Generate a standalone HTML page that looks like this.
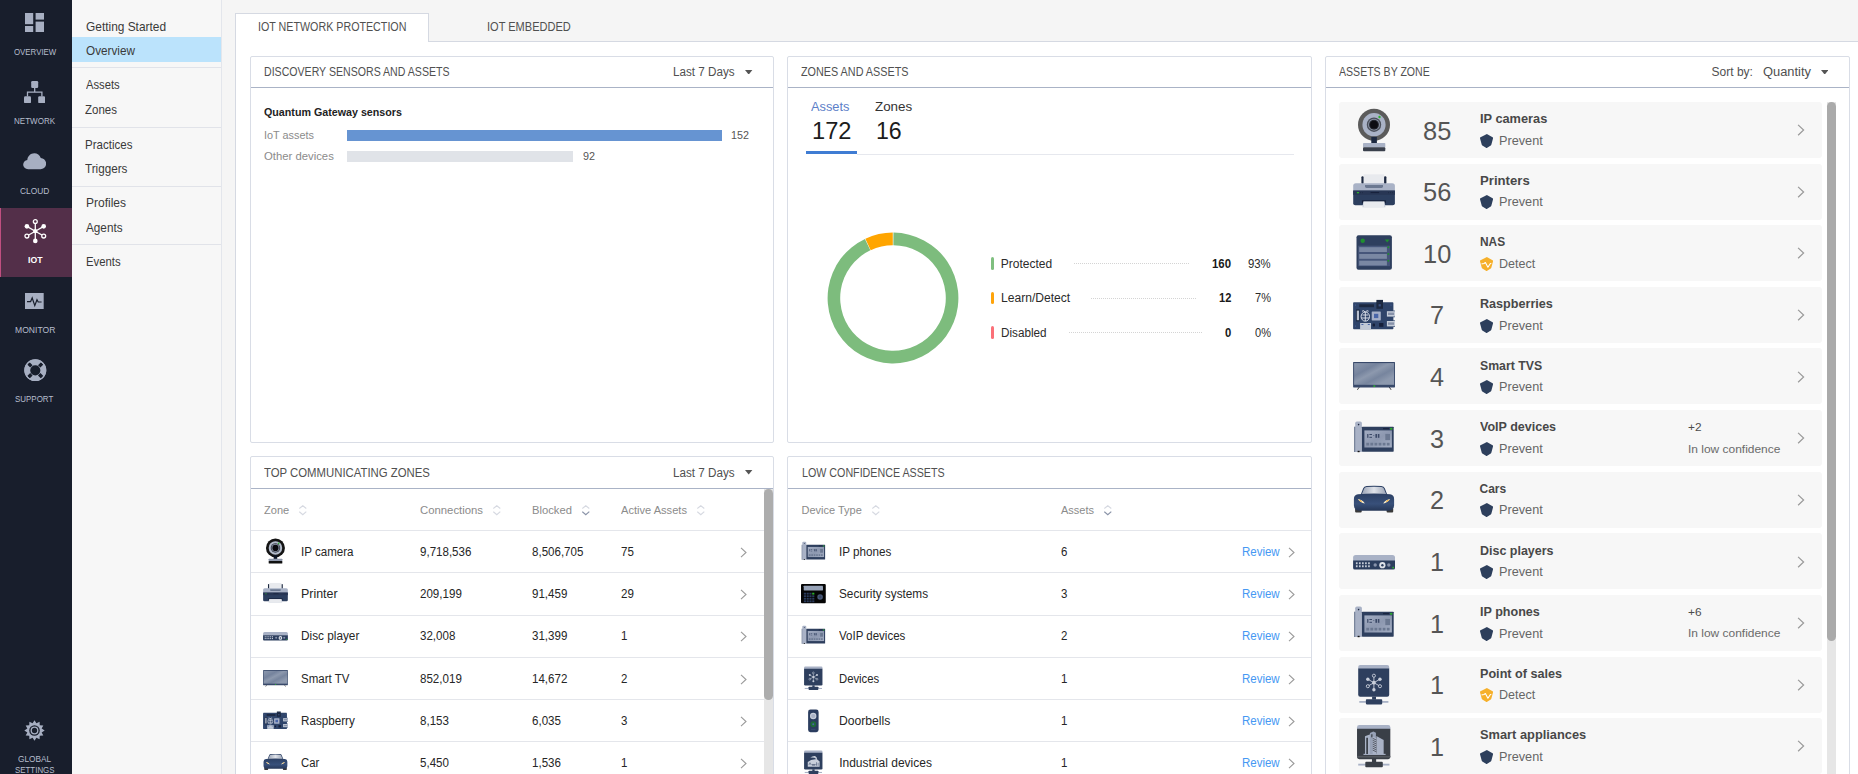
<!DOCTYPE html>
<html lang="en"><head><meta charset="utf-8"><title>IoT Overview</title>
<style>
html,body{margin:0;padding:0}
body{width:1858px;height:774px;overflow:hidden;position:relative;background:#fff;font-family:"Liberation Sans",sans-serif}
.b{position:absolute;box-sizing:border-box;display:block}
.t{position:absolute;white-space:nowrap;line-height:1;transform-origin:0 50%;display:block}
</style></head><body>
<div class="b" style="left:0px;top:0px;width:72px;height:774px;background:#181e2c;"></div>
<div class="b" style="left:0px;top:208px;width:72px;height:69px;background:#532f49;"></div>
<div class="b" style="left:0px;top:208px;width:1.4px;height:69px;background:#c04f80;"></div>
<div class="b" style="left:72px;top:0px;width:150px;height:774px;background:#f7f7f7;border-right:1px solid #e3e6ec;"></div>
<div class="b" style="left:72px;top:37px;width:149px;height:25.3px;background:#bbe3fc;"></div>
<div class="b" style="left:72px;top:67px;width:149px;height:1px;background:#e1e3e9;"></div>
<div class="b" style="left:72px;top:126.5px;width:149px;height:1px;background:#e1e3e9;"></div>
<div class="b" style="left:72px;top:185.5px;width:149px;height:1px;background:#e1e3e9;"></div>
<div class="b" style="left:72px;top:244.2px;width:149px;height:1px;background:#e1e3e9;"></div>
<div class="b" style="left:222px;top:0px;width:1636px;height:774px;background:#f5f5f5;"></div>
<div class="b" style="left:235px;top:41px;width:1623px;height:740px;background:#fff;border:1px solid #d5d9e2;border-right:none;"></div>
<div class="b" style="left:235px;top:13px;width:194px;height:29px;background:#fff;border:1px solid #d5d9e2;border-bottom:none;"></div>
<div class="b" style="left:250px;top:56px;width:524px;height:387px;background:#fff;border:1px solid #d9dde6;border-radius:2px;"></div>
<div class="b" style="left:251px;top:87px;width:522px;height:1px;background:#aab3c6;"></div>
<div class="b" style="left:787px;top:56px;width:525px;height:387px;background:#fff;border:1px solid #d9dde6;border-radius:2px;"></div>
<div class="b" style="left:788px;top:87px;width:523px;height:1px;background:#aab3c6;"></div>
<div class="b" style="left:1325px;top:56px;width:525px;height:740px;background:#fff;border:1px solid #d9dde6;border-radius:2px;"></div>
<div class="b" style="left:1326px;top:87px;width:523px;height:1px;background:#aab3c6;"></div>
<div class="b" style="left:250px;top:456px;width:524px;height:340px;background:#fff;border:1px solid #d9dde6;border-radius:2px;"></div>
<div class="b" style="left:251px;top:488px;width:522px;height:1px;background:#aab3c6;"></div>
<div class="b" style="left:787px;top:456px;width:525px;height:340px;background:#fff;border:1px solid #d9dde6;border-radius:2px;"></div>
<div class="b" style="left:788px;top:488px;width:523px;height:1px;background:#aab3c6;"></div>
<svg class="b" style="left:25px;top:13px;" width="19" height="19.4" viewBox="0 0 19 19.4"><g fill="#a7afc2"><rect x="0" y="0" width="8.2" height="11.2"/><rect x="10.6" y="0" width="8.4" height="6.6"/><rect x="0" y="13" width="8.2" height="6.4"/><rect x="10.6" y="8.6" width="8.4" height="10.8"/></g></svg>
<svg class="b" style="left:24px;top:80.8px;" width="21.2" height="22.2" viewBox="0 0 21.2 22.2"><g fill="#a7afc2"><rect x="7.2" y="0" width="7" height="7" rx="1.3"/><rect x="0" y="15.2" width="7" height="7" rx="1.3"/><rect x="14.2" y="15.2" width="7" height="7" rx="1.3"/></g><path d="M10.7 7v4.2M3.5 15.4v-4.2h14.4v4.2" fill="none" stroke="#a7afc2" stroke-width="1.3"/></svg>
<svg class="b" style="left:23px;top:153.4px;" width="23.4" height="16.4" viewBox="0 0 23.4 16.4"><path d="M5.2 16.2C2.3 16.2 0.2 14.2 0.2 11.6C0.2 9.2 2 7.3 4.3 7C4.6 3.2 7.6 0.3 11.3 0.3C14.3 0.3 16.8 2.2 17.8 4.9C20.8 5.1 23.2 7.6 23.2 10.6C23.2 13.7 20.7 16.2 17.6 16.2Z" fill="#a7afc2"/></svg>
<svg class="b" style="left:20px;top:215px;" width="32" height="32" viewBox="0 0 32 32"><path d="M15.30 16.20L15.30 6.50" stroke="#fff" stroke-width="1.3"/><path d="M15.30 16.20L23.70 11.35" stroke="#fff" stroke-width="1.3"/><path d="M15.30 16.20L23.70 21.05" stroke="#fff" stroke-width="1.3"/><path d="M15.30 16.20L15.30 25.90" stroke="#fff" stroke-width="1.3"/><path d="M15.30 16.20L6.90 21.05" stroke="#fff" stroke-width="1.3"/><path d="M15.30 16.20L6.90 11.35" stroke="#fff" stroke-width="1.3"/><circle cx="15.30" cy="6.50" r="1.95" fill="#532f49" stroke="#fff" stroke-width="1.3"/><circle cx="23.70" cy="11.35" r="2.30" fill="#fff"/><circle cx="23.70" cy="21.05" r="1.95" fill="#532f49" stroke="#fff" stroke-width="1.3"/><circle cx="15.30" cy="25.90" r="2.30" fill="#fff"/><circle cx="6.90" cy="21.05" r="1.95" fill="#532f49" stroke="#fff" stroke-width="1.3"/><circle cx="6.90" cy="11.35" r="2.30" fill="#fff"/><circle cx="15.3" cy="16.2" r="2.1" fill="#fff"/></svg>
<svg class="b" style="left:25.3px;top:292.6px;" width="18.7" height="16.5" viewBox="0 0 18.7 16.5"><rect width="18.7" height="16.5" fill="#a7afc2"/><path d="M2 8.6h3.6l1.6-3.6 2.6 7.6 2.2-5.8 1.2 2.2h3.4" fill="none" stroke="#181e2c" stroke-width="1.2"/></svg>
<svg class="b" style="left:24px;top:358.8px;" width="22.6" height="22.6" viewBox="0 0 22.6 22.6"><circle cx="11.3" cy="11.3" r="8.05" fill="none" stroke="#a7afc2" stroke-width="5.9"/><g stroke="#181e2c" stroke-width="3.4"><path d="M4.4 4.4l3 3M18.2 4.4l-3 3M4.4 18.2l3-3M18.2 18.2l-3-3"/></g><circle cx="11.3" cy="11.3" r="10.4" fill="none" stroke="#a7afc2" stroke-width="1.2"/></svg>
<svg class="b" style="left:23px;top:719px;" width="23" height="23" viewBox="0 0 23 23"><path d="M11.50 1.30L13.42 4.35L16.60 2.67L16.73 6.27L20.33 6.40L18.65 9.58L21.70 11.50L18.65 13.42L20.33 16.60L16.73 16.73L16.60 20.33L13.42 18.65L11.50 21.70L9.58 18.65L6.40 20.33L6.27 16.73L2.67 16.60L4.35 13.42L1.30 11.50L4.35 9.58L2.67 6.40L6.27 6.27L6.40 2.67L9.58 4.35Z" fill="#a7afc2"/><circle cx="11.5" cy="11.5" r="5.3" fill="#181e2c"/><circle cx="11.5" cy="11.5" r="3.3" fill="none" stroke="#a7afc2" stroke-width="1.3"/></svg>
<span class="t" style="left:13.50px;top:46.71px;font-size:9.8px;color:#b6bdcd;transform:scaleX(0.8023);">OVERVIEW</span>
<span class="t" style="left:14.10px;top:116.01px;font-size:9.8px;color:#b6bdcd;transform:scaleX(0.8207);">NETWORK</span>
<span class="t" style="left:19.90px;top:185.81px;font-size:9.8px;color:#b6bdcd;transform:scaleX(0.8542);">CLOUD</span>
<span class="t" style="left:27.50px;top:255.11px;font-size:9.8px;color:#fff;font-weight:700;transform:scaleX(0.8860);">IOT</span>
<span class="t" style="left:14.50px;top:324.71px;font-size:9.8px;color:#b6bdcd;transform:scaleX(0.8749);">MONITOR</span>
<span class="t" style="left:15.30px;top:393.91px;font-size:9.8px;color:#b6bdcd;transform:scaleX(0.8108);">SUPPORT</span>
<span class="t" style="left:17.70px;top:754.21px;font-size:9.8px;color:#b6bdcd;transform:scaleX(0.8444);">GLOBAL</span>
<span class="t" style="left:14.70px;top:764.91px;font-size:9.8px;color:#b6bdcd;transform:scaleX(0.8061);">SETTINGS</span>
<span class="t" style="left:85.60px;top:19.65px;font-size:13px;color:#3a3a3a;transform:scaleX(0.9155);">Getting Started</span>
<span class="t" style="left:85.60px;top:43.85px;font-size:13px;color:#3a3a3a;transform:scaleX(0.9036);">Overview</span>
<span class="t" style="left:85.60px;top:78.25px;font-size:13px;color:#3a3a3a;transform:scaleX(0.8641);">Assets</span>
<span class="t" style="left:85.40px;top:103.45px;font-size:13px;color:#3a3a3a;transform:scaleX(0.8827);">Zones</span>
<span class="t" style="left:85.40px;top:138.05px;font-size:13px;color:#3a3a3a;transform:scaleX(0.8871);">Practices</span>
<span class="t" style="left:85.40px;top:162.45px;font-size:13px;color:#3a3a3a;transform:scaleX(0.8985);">Triggers</span>
<span class="t" style="left:85.50px;top:196.05px;font-size:13px;color:#3a3a3a;transform:scaleX(0.9240);">Profiles</span>
<span class="t" style="left:85.50px;top:221.05px;font-size:13px;color:#3a3a3a;transform:scaleX(0.9028);">Agents</span>
<span class="t" style="left:85.50px;top:255.45px;font-size:13px;color:#3a3a3a;transform:scaleX(0.8723);">Events</span>
<span class="t" style="left:257.60px;top:20.94px;font-size:12px;color:#505050;transform:scaleX(0.8916);">IOT NETWORK PROTECTION</span>
<span class="t" style="left:486.70px;top:20.94px;font-size:12px;color:#505050;transform:scaleX(0.9190);">IOT EMBEDDED</span>
<span class="t" style="left:263.60px;top:65.74px;font-size:12px;color:#505050;transform:scaleX(0.8823);">DISCOVERY SENSORS AND ASSETS</span>
<span class="t" style="left:673.20px;top:65.74px;font-size:12px;color:#505050;transform:scaleX(0.9722);">Last 7 Days</span>
<span class="t" style="left:801.20px;top:65.74px;font-size:12px;color:#505050;transform:scaleX(0.9003);">ZONES AND ASSETS</span>
<span class="t" style="left:1339.30px;top:65.74px;font-size:12px;color:#505050;transform:scaleX(0.8798);">ASSETS BY ZONE</span>
<span class="t" style="left:1711.60px;top:65.74px;font-size:12px;color:#505050;">Sort by:</span>
<span class="t" style="left:1762.60px;top:65.74px;font-size:12px;color:#505050;transform:scaleX(1.0730);">Quantity</span>
<span class="t" style="left:263.80px;top:466.74px;font-size:12px;color:#505050;transform:scaleX(0.9463);">TOP COMMUNICATING ZONES</span>
<span class="t" style="left:673.20px;top:466.74px;font-size:12px;color:#505050;transform:scaleX(0.9722);">Last 7 Days</span>
<span class="t" style="left:801.80px;top:466.74px;font-size:12px;color:#505050;transform:scaleX(0.8914);">LOW CONFIDENCE ASSETS</span>
<svg class="b" style="left:745.2px;top:69.6px;" width="7.4" height="4.6" viewBox="0 0 7.4 4.6"><path d="M0 0h7.4L3.7 4.6z" fill="#555"/></svg>
<svg class="b" style="left:745.2px;top:470.4px;" width="7.4" height="4.6" viewBox="0 0 7.4 4.6"><path d="M0 0h7.4L3.7 4.6z" fill="#555"/></svg>
<svg class="b" style="left:1820.7px;top:69.6px;" width="7.4" height="4.6" viewBox="0 0 7.4 4.6"><path d="M0 0h7.4L3.7 4.6z" fill="#555"/></svg>
<span class="t" style="left:263.50px;top:107.33px;font-size:11px;color:#222;font-weight:700;transform:scaleX(0.9726);">Quantum Gateway sensors</span>
<span class="t" style="left:263.50px;top:129.63px;font-size:11px;color:#8b8b8b;transform:scaleX(0.9863);">IoT assets</span>
<span class="t" style="left:263.50px;top:151.23px;font-size:11px;color:#8b8b8b;transform:scaleX(1.0284);">Other devices</span>
<div class="b" style="left:347px;top:130px;width:375.3px;height:11px;background:#6694d2;"></div>
<div class="b" style="left:347px;top:151px;width:226.3px;height:10.5px;background:#e0e3e8;"></div>
<span class="t" style="left:731.20px;top:130.13px;font-size:11px;color:#555;transform:scaleX(0.9744);">152</span>
<span class="t" style="left:582.80px;top:151.23px;font-size:11px;color:#555;transform:scaleX(0.9828);">92</span>
<span class="t" style="left:810.60px;top:100.35px;font-size:13px;color:#5c80c8;transform:scaleX(0.9846);">Assets</span>
<span class="t" style="left:874.50px;top:100.35px;font-size:13px;color:#333;transform:scaleX(1.0293);">Zones</span>
<span class="t" style="left:812.00px;top:119.18px;font-size:24.2px;color:#1c1c1c;transform:scaleX(0.9774);">172</span>
<span class="t" style="left:876.00px;top:119.18px;font-size:24.2px;color:#1c1c1c;transform:scaleX(0.9567);">16</span>
<div class="b" style="left:857px;top:154px;width:437px;height:1px;background:#e6e8ee;"></div>
<div class="b" style="left:806px;top:151.3px;width:51px;height:2.4px;background:#3f7cd3;"></div>
<svg class="b" style="left:0;top:0" width="1858" height="774" viewBox="0 0 1858 774"><path d="M893.46 232.60A65.4 65.4 0 1 1 864.95 238.92L870.35 250.30A52.8 52.8 0 1 0 893.37 245.20Z" fill="#7dbc7d"/><path d="M865.36 238.73A65.4 65.4 0 0 1 892.77 232.60L892.82 245.20A52.8 52.8 0 0 0 870.69 250.15Z" fill="#ffa500"/></svg>
<div class="b" style="left:990.8px;top:257.40000000000003px;width:3px;height:12.4px;background:#7fbf7f;border-radius:1.5px;"></div>
<span class="t" style="left:1000.80px;top:257.74px;font-size:12px;color:#2b2b2b;">Protected</span>
<div class="b" style="left:1073.8px;top:263.1px;width:116.20000000000005px;height:1px;background:repeating-linear-gradient(90deg,#d4d4d4 0 1px,transparent 1px 2px);"></div>
<span class="t" style="left:1212.00px;top:257.74px;font-size:12px;color:#1a1a1a;font-weight:700;transform:scaleX(0.9481);">160</span>
<span class="t" style="left:1248.30px;top:257.74px;font-size:12px;color:#2b2b2b;transform:scaleX(0.9458);">93%</span>
<div class="b" style="left:990.8px;top:291.8px;width:3px;height:12.4px;background:#ffa40a;border-radius:1.5px;"></div>
<span class="t" style="left:1000.80px;top:292.14px;font-size:12px;color:#2b2b2b;transform:scaleX(1.0064);">Learn/Detect</span>
<div class="b" style="left:1091.3px;top:297.5px;width:105.40000000000009px;height:1px;background:repeating-linear-gradient(90deg,#d4d4d4 0 1px,transparent 1px 2px);"></div>
<span class="t" style="left:1218.70px;top:292.14px;font-size:12px;color:#1a1a1a;font-weight:700;transform:scaleX(0.9234);">12</span>
<span class="t" style="left:1255.00px;top:292.14px;font-size:12px;color:#2b2b2b;transform:scaleX(0.9195);">7%</span>
<div class="b" style="left:990.8px;top:326.3px;width:3px;height:12.4px;background:#fb7078;border-radius:1.5px;"></div>
<span class="t" style="left:1000.80px;top:326.64px;font-size:12px;color:#2b2b2b;transform:scaleX(0.9747);">Disabled</span>
<div class="b" style="left:1068.8px;top:332.0px;width:133.70000000000005px;height:1px;background:repeating-linear-gradient(90deg,#d4d4d4 0 1px,transparent 1px 2px);"></div>
<span class="t" style="left:1224.70px;top:326.64px;font-size:12px;color:#1a1a1a;font-weight:700;transform:scaleX(0.9375);">0</span>
<span class="t" style="left:1255.00px;top:326.64px;font-size:12px;color:#2b2b2b;transform:scaleX(0.9195);">0%</span>
<span class="t" style="left:263.50px;top:504.63px;font-size:11px;color:#8b8b8b;transform:scaleX(1.0048);">Zone</span>
<svg class="b" style="left:299px;top:504.5px;" width="8" height="11" viewBox="0 0 8 11"><path d="M0.3 3.5L3.8 0.8L7.3 3.5" fill="none" stroke="#d6d9e1" stroke-width="1.1"/><path d="M0.3 6.6L3.8 9.7L7.3 6.600" fill="none" stroke="#d6d9e1" stroke-width="1.2"/></svg>
<span class="t" style="left:419.60px;top:504.63px;font-size:11px;color:#8b8b8b;transform:scaleX(1.0301);">Connections</span>
<svg class="b" style="left:492.5px;top:504.5px;" width="8" height="11" viewBox="0 0 8 11"><path d="M0.3 3.5L3.8 0.8L7.3 3.5" fill="none" stroke="#d6d9e1" stroke-width="1.1"/><path d="M0.3 6.6L3.8 9.7L7.3 6.600" fill="none" stroke="#d6d9e1" stroke-width="1.2"/></svg>
<span class="t" style="left:531.90px;top:504.63px;font-size:11px;color:#8b8b8b;transform:scaleX(1.0215);">Blocked</span>
<svg class="b" style="left:582px;top:504.5px;" width="8" height="11" viewBox="0 0 8 11"><path d="M0.3 3.5L3.8 0.8L7.3 3.5" fill="none" stroke="#d6d9e1" stroke-width="1.1"/><path d="M0.3 6.6L3.8 9.7L7.3 6.600" fill="none" stroke="#8a93a8" stroke-width="1.2"/></svg>
<span class="t" style="left:621.30px;top:504.63px;font-size:11px;color:#8b8b8b;transform:scaleX(1.0084);">Active Assets</span>
<svg class="b" style="left:697.2px;top:504.5px;" width="8" height="11" viewBox="0 0 8 11"><path d="M0.3 3.5L3.8 0.8L7.3 3.5" fill="none" stroke="#d6d9e1" stroke-width="1.1"/><path d="M0.3 6.6L3.8 9.7L7.3 6.600" fill="none" stroke="#d6d9e1" stroke-width="1.2"/></svg>
<div class="b" style="left:251px;top:530.1px;width:513px;height:1px;background:#e4e6eb;"></div>
<span class="t" style="left:301.30px;top:545.77px;font-size:12px;color:#262626;transform:scaleX(0.9637);">IP camera</span>
<svg class="b" style="left:263.20px;top:538.88px;overflow:visible" width="24.9" height="24.9" viewBox="0 0 42 42"><circle cx="21" cy="15" r="16" fill="#141414"/><circle cx="21" cy="15" r="11.4" fill="#b4bccb"/><circle cx="21" cy="15" r="8" fill="#3a3f4a"/><circle cx="21" cy="15" r="6.400" fill="#8e97aa"/><circle cx="21" cy="15" r="5.2" fill="#0a0a0e"/><circle cx="26.5" cy="7.4" r="1.3" fill="#2bb02b"/><rect x="18" y="27" width="6" height="8" fill="#0c1424"/><rect x="9.6" y="33.400" width="23" height="4.2" rx="0.8" fill="#8e97aa"/><rect x="9.6" y="37" width="23" height="4.400" rx="1" fill="#101010"/></svg>
<span class="t" style="left:419.60px;top:545.77px;font-size:12px;color:#262626;transform:scaleX(0.9626);">9,718,536</span>
<span class="t" style="left:531.90px;top:545.77px;font-size:12px;color:#262626;transform:scaleX(0.9626);">8,506,705</span>
<span class="t" style="left:621.30px;top:545.77px;font-size:12px;color:#262626;transform:scaleX(0.9649);">75</span>
<svg class="b" style="left:740.2px;top:546.735px;" width="7.0" height="11.0" viewBox="0 0 7 11"><path d="M1 0.8L6 5.5L1 10.2" fill="none" stroke="#9a9a9a" stroke-width="1.1"/></svg>
<div class="b" style="left:251px;top:572.37px;width:513px;height:1px;background:#e4e6eb;"></div>
<span class="t" style="left:301.30px;top:588.04px;font-size:12px;color:#262626;transform:scaleX(1.0367);">Printer</span>
<svg class="b" style="left:263.20px;top:581.15px;overflow:visible" width="24.9" height="24.9" viewBox="0 0 42 42"><rect x="8.4" y="5.2" width="2.4" height="8" rx="1.1" fill="#1c2840"/><rect x="31" y="5.2" width="2.4" height="8" rx="1.1" fill="#1c2840"/><rect x="10.7" y="3.3" width="20.4" height="10" fill="#e8eaee"/><path d="M0.2 19.8V14.8Q0.2 12.2 2.8 12.2H39.3Q41.9 12.2 41.9 14.8V19.8Z" fill="#a9b2c6"/><path d="M12 13.9H30V15.6Q30 17 28.6 17H13.4Q12 17 12 15.6Z" fill="#6b7891"/><path d="M0.2 19.6H41.9V32.2Q41.9 34.3 39.8 34.3H2.3Q0.2 34.3 0.2 32.2Z" fill="#2c3e5e"/><rect x="0.2" y="19.6" width="41.7" height="4.2" fill="#283654"/><rect x="3.9" y="21" width="2.1" height="1.3" fill="#2bb02b"/><rect x="7" y="21.3" width="0.9" height="0.8" fill="#1c2840"/><rect x="9" y="21.3" width="0.9" height="0.8" fill="#1c2840"/><rect x="17.6" y="21.1" width="8.5" height="1" fill="#16203a"/><rect x="35" y="21.3" width="0.9" height="0.8" fill="#1c2840"/><rect x="37" y="21.3" width="0.9" height="0.8" fill="#1c2840"/><rect x="39" y="21.3" width="0.9" height="0.8" fill="#1c2840"/><rect x="8.9" y="29.3" width="24" height="3" fill="#16203a"/><path d="M9.4 36.3L10.4 30.6H31.4L32.4 36.3Z" fill="#c8cfdc"/><rect x="10.6" y="30.6" width="20.6" height="5.7" fill="#e8eaee"/></svg>
<span class="t" style="left:419.60px;top:588.04px;font-size:12px;color:#262626;transform:scaleX(0.9642);">209,199</span>
<span class="t" style="left:531.90px;top:588.04px;font-size:12px;color:#262626;transform:scaleX(0.9625);">91,459</span>
<span class="t" style="left:621.30px;top:588.04px;font-size:12px;color:#262626;transform:scaleX(0.9649);">29</span>
<svg class="b" style="left:740.2px;top:589.005px;" width="7.0" height="11.0" viewBox="0 0 7 11"><path d="M1 0.8L6 5.5L1 10.2" fill="none" stroke="#9a9a9a" stroke-width="1.1"/></svg>
<div class="b" style="left:251px;top:614.64px;width:513px;height:1px;background:#e4e6eb;"></div>
<span class="t" style="left:301.30px;top:630.31px;font-size:12px;color:#262626;transform:scaleX(0.9832);">Disc player</span>
<svg class="b" style="left:263.20px;top:623.42px;overflow:visible" width="24.9" height="24.9" viewBox="0 0 42 42"><path d="M0.1 21V17.6Q0.1 15 2.700 15H39.400Q42 15 42 17.6V21Z" fill="#a9b2c6"/><path d="M0.1 20.6H42V27.900Q42 29.500 40.400 29.500H1.700Q0.1 29.500 0.1 27.900Z" fill="#2c3e5e"/><rect x="2.90" y="22.3" width="1.7" height="1.9" fill="#c5ccd8"/><rect x="5.95" y="22.3" width="1.7" height="1.9" fill="#c5ccd8"/><rect x="9.00" y="22.3" width="1.7" height="1.9" fill="#c5ccd8"/><rect x="12.05" y="22.3" width="1.7" height="1.9" fill="#c5ccd8"/><rect x="15.10" y="22.3" width="1.7" height="1.9" fill="#c5ccd8"/><rect x="2.90" y="25.3" width="1.7" height="1.9" fill="#c5ccd8"/><rect x="5.95" y="25.3" width="1.7" height="1.9" fill="#c5ccd8"/><rect x="9.00" y="25.3" width="1.7" height="1.9" fill="#c5ccd8"/><rect x="12.05" y="25.3" width="1.7" height="1.9" fill="#c5ccd8"/><rect x="15.10" y="25.3" width="1.7" height="1.9" fill="#c5ccd8"/><circle cx="22.2" cy="25" r="1.7" fill="#8792aa"/><circle cx="35.8" cy="25" r="1.7" fill="#8792aa"/><circle cx="29.4" cy="25.2" r="3.1" fill="#dfe3ea"/><circle cx="29.4" cy="25.2" r="1.2" fill="#2c3e5e"/><rect x="39.4" y="26.8" width="1.6" height="1.600" fill="#2bb02b"/></svg>
<span class="t" style="left:419.60px;top:630.31px;font-size:12px;color:#262626;transform:scaleX(0.9625);">32,008</span>
<span class="t" style="left:531.90px;top:630.31px;font-size:12px;color:#262626;transform:scaleX(0.9625);">31,399</span>
<span class="t" style="left:621.30px;top:630.31px;font-size:12px;color:#262626;transform:scaleX(0.9563);">1</span>
<svg class="b" style="left:740.2px;top:631.275px;" width="7.0" height="11.0" viewBox="0 0 7 11"><path d="M1 0.8L6 5.5L1 10.2" fill="none" stroke="#9a9a9a" stroke-width="1.1"/></svg>
<div class="b" style="left:251px;top:656.9100000000001px;width:513px;height:1px;background:#e4e6eb;"></div>
<span class="t" style="left:301.30px;top:672.58px;font-size:12px;color:#262626;transform:scaleX(0.9580);">Smart TV</span>
<svg class="b" style="left:263.20px;top:665.70px;overflow:visible" width="24.9" height="24.9" viewBox="0 0 42 42"><defs><linearGradient id="tv4" x1="0" y1="0" x2="1" y2="1"><stop offset="0" stop-color="#8d99ae"/><stop offset="0.3" stop-color="#75839d"/><stop offset="0.45" stop-color="#8d99ae"/><stop offset="0.62" stop-color="#77859e"/><stop offset="0.8" stop-color="#8d99ae"/><stop offset="1" stop-color="#8d99ae"/></linearGradient></defs><path d="M6.3 32L4.4 34.8M36.2 32L38.1 34.8" stroke="#3c3c3c" stroke-width="1"/><rect x="0.1" y="6.9" width="41.9" height="25.5" rx="0.6" fill="#38496a"/><rect x="1.1" y="8.1" width="40" height="21.7" fill="url(#tv4)"/><rect x="20.4" y="30.3" width="1.8" height="1.6" fill="#2bb02b"/></svg>
<span class="t" style="left:419.60px;top:672.58px;font-size:12px;color:#262626;transform:scaleX(0.9642);">852,019</span>
<span class="t" style="left:531.90px;top:672.58px;font-size:12px;color:#262626;transform:scaleX(0.9625);">14,672</span>
<span class="t" style="left:621.30px;top:672.58px;font-size:12px;color:#262626;transform:scaleX(0.9563);">2</span>
<svg class="b" style="left:740.2px;top:673.5450000000001px;" width="7.0" height="11.0" viewBox="0 0 7 11"><path d="M1 0.8L6 5.5L1 10.2" fill="none" stroke="#9a9a9a" stroke-width="1.1"/></svg>
<div class="b" style="left:251px;top:699.1800000000001px;width:513px;height:1px;background:#e4e6eb;"></div>
<span class="t" style="left:301.30px;top:714.85px;font-size:12px;color:#262626;transform:scaleX(0.9725);">Raspberry</span>
<svg class="b" style="left:263.20px;top:707.97px;overflow:visible" width="24.9" height="24.9" viewBox="0 0 42 42"><rect x="23.4" y="5.9" width="6.6" height="9" fill="#1c2840"/><rect x="0.1" y="8.2" width="40.3" height="27.1" rx="0.8" fill="#2f446a"/><rect x="23.4" y="8.2" width="6.6" height="6.6" fill="#1c2840"/><rect x="25.6" y="10.2" width="2.2" height="2.2" fill="#3a5080"/><rect x="6.2" y="10.3" width="14.8" height="2.9" fill="#1c2840"/><rect x="3" y="15.4" width="3.6" height="12" fill="#1c2840"/><rect x="3.8" y="16.6" width="2.2" height="9.6" fill="#b8c0d0"/><g fill="none" stroke="#e4e8f0" stroke-width="0.9"><ellipse cx="12.3" cy="22.6" rx="4.2" ry="4.6"/><path d="M9 17.2q2-1.6 3.3 1.2q1.3-2.8 3.3-1.2M9.4 21h5.8M8.6 24h7.4M12.3 18.4v8.6"/></g><rect x="18.7" y="17.5" width="9.1" height="8.9" rx="0.6" fill="#a6b0c8"/><rect x="21" y="19.8" width="4.3" height="4.3" fill="#4a66a8"/><rect x="33.6" y="16.6" width="8.4" height="6.6" fill="#2f446a"/><rect x="33.9" y="17.2" width="8.1" height="5.4" fill="#c5ccd8"/><rect x="35" y="18.6" width="6" height="2.4" fill="#8792aa"/><rect x="33.6" y="26.4" width="8.4" height="6.6" fill="#2f446a"/><rect x="33.9" y="27" width="8.1" height="5.4" fill="#c5ccd8"/><rect x="35" y="28.4" width="6" height="2.4" fill="#8792aa"/><rect x="7.1" y="29" width="10.9" height="6.3" fill="#c0c8d6"/><rect x="8.4" y="30" width="2" height="1" fill="#4a66a8"/><rect x="14.8" y="30" width="2" height="1" fill="#4a66a8"/><rect x="19.6" y="29.6" width="2.4" height="3" rx="0.8" fill="#16203a"/><rect x="26.1" y="29" width="4.3" height="3.8" fill="#16203a"/><circle cx="2.4" cy="11" r="0.6" fill="#4a66a8"/><circle cx="38" cy="11" r="0.6" fill="#4a66a8"/><circle cx="2.4" cy="32" r="0.6" fill="#4a66a8"/></svg>
<span class="t" style="left:419.60px;top:714.85px;font-size:12px;color:#262626;transform:scaleX(0.9638);">8,153</span>
<span class="t" style="left:531.90px;top:714.85px;font-size:12px;color:#262626;transform:scaleX(0.9638);">6,035</span>
<span class="t" style="left:621.30px;top:714.85px;font-size:12px;color:#262626;transform:scaleX(0.9563);">3</span>
<svg class="b" style="left:740.2px;top:715.815px;" width="7.0" height="11.0" viewBox="0 0 7 11"><path d="M1 0.8L6 5.5L1 10.2" fill="none" stroke="#9a9a9a" stroke-width="1.1"/></svg>
<div class="b" style="left:251px;top:741.45px;width:513px;height:1px;background:#e4e6eb;"></div>
<span class="t" style="left:301.30px;top:757.12px;font-size:12px;color:#262626;transform:scaleX(0.9420);">Car</span>
<svg class="b" style="left:263.20px;top:750.24px;overflow:visible" width="24.9" height="24.9" viewBox="0 0 42 42"><defs><linearGradient id="cw6" x1="0" y1="0" x2="1" y2="0"><stop offset="0" stop-color="#9aa3b5"/><stop offset="0.5" stop-color="#dfe3ea"/><stop offset="1" stop-color="#9aa3b5"/></linearGradient><linearGradient id="cb6" x1="0" y1="0" x2="0" y2="1"><stop offset="0" stop-color="#2b3f63"/><stop offset="0.6" stop-color="#38507a"/><stop offset="1" stop-color="#263757"/></linearGradient></defs><rect x="2.1" y="29" width="6.6" height="4.6" rx="1" fill="#3a3a3a"/><rect x="33.6" y="29" width="6.6" height="4.6" rx="1" fill="#3a3a3a"/><path d="M7.4 16.5L10.2 9.2Q11 7 13.6 6.9Q21 6.4 28.4 6.9Q31 7 31.8 9.2L34.6 16.5Z" fill="#2b3f63"/><path d="M8.6 15.8L11.2 9.6Q11.8 8.1 13.6 8Q21 7.5 28.4 8Q30.2 8.1 30.8 9.6L33.4 15.800Q21 17.4 8.6 15.8Z" fill="url(#cw6)"/><path d="M0.9 20Q0.9 15.600 5 15.2Q21 13.6 37 15.2Q41.100 15.600 41.1 20V26.5Q41.1 31.700 35 31.700H7Q0.9 31.700 0.9 26.5Z" fill="url(#cb6)"/><path d="M4.8 20.1Q8.8 20.4 11.900 24.400Q7.4 24 4.8 20.100Z" fill="#fff2cc"/><path d="M5.6 20.6Q8 21 9.400 23.2Q7 22.700 5.600 20.600Z" fill="#f6a623"/><path d="M37.2 20.1Q33.2 20.4 30.1 24.400Q34.6 24 37.200 20.100Z" fill="#fff2cc"/><path d="M36.4 20.6Q34 21 32.600 23.2Q35 22.700 36.400 20.600Z" fill="#f6a623"/></svg>
<span class="t" style="left:419.60px;top:757.12px;font-size:12px;color:#262626;transform:scaleX(0.9638);">5,450</span>
<span class="t" style="left:531.90px;top:757.12px;font-size:12px;color:#262626;transform:scaleX(0.9638);">1,536</span>
<span class="t" style="left:621.30px;top:757.12px;font-size:12px;color:#262626;transform:scaleX(0.9563);">1</span>
<svg class="b" style="left:740.2px;top:758.085px;" width="7.0" height="11.0" viewBox="0 0 7 11"><path d="M1 0.8L6 5.5L1 10.2" fill="none" stroke="#9a9a9a" stroke-width="1.1"/></svg>
<div class="b" style="left:764px;top:489px;width:9px;height:290px;background:#e6e6e6;"></div>
<div class="b" style="left:764px;top:489px;width:9px;height:211px;background:#adadad;border-radius:4.5px;"></div>
<span class="t" style="left:801.50px;top:504.63px;font-size:11px;color:#8b8b8b;">Device Type</span>
<svg class="b" style="left:871.5px;top:504.5px;" width="8" height="11" viewBox="0 0 8 11"><path d="M0.3 3.5L3.8 0.8L7.3 3.5" fill="none" stroke="#d6d9e1" stroke-width="1.1"/><path d="M0.3 6.6L3.8 9.7L7.3 6.600" fill="none" stroke="#d6d9e1" stroke-width="1.2"/></svg>
<span class="t" style="left:1061.00px;top:504.63px;font-size:11px;color:#8b8b8b;">Assets</span>
<svg class="b" style="left:1103.8px;top:504.5px;" width="8" height="11" viewBox="0 0 8 11"><path d="M0.3 3.5L3.8 0.8L7.3 3.5" fill="none" stroke="#d6d9e1" stroke-width="1.1"/><path d="M0.3 6.6L3.8 9.7L7.3 6.600" fill="none" stroke="#8a93a8" stroke-width="1.2"/></svg>
<div class="b" style="left:788px;top:530.1px;width:523px;height:1px;background:#e4e6eb;"></div>
<span class="t" style="left:839.20px;top:545.77px;font-size:12px;color:#262626;transform:scaleX(0.9725);">IP phones</span>
<svg class="b" style="left:801.20px;top:538.88px;overflow:visible" width="24.9" height="24.9" viewBox="0 0 42 42"><defs><linearGradient id="vp7" x1="0" y1="0" x2="1" y2="1"><stop offset="0" stop-color="#a3adc2"/><stop offset="0.5" stop-color="#8d98b0"/><stop offset="1" stop-color="#a3adc2"/></linearGradient></defs><rect x="1.1" y="9.7" width="2" height="25.3" fill="#6b7891"/><path d="M2.2 35V6.2Q2.2 4.5 3.9 4.5H7.2Q8.9 4.5 8.9 6.2V35Z" fill="#a9b2c6"/><circle cx="5.6" cy="7.6" r="0.8" fill="#1c2840"/><rect x="4.6" y="33.8" width="2" height="1.4" fill="#111"/><rect x="8.9" y="9.7" width="31.8" height="25" rx="0.6" fill="#2e3f5e"/><rect x="11.4" y="13.4" width="27.5" height="17.1" fill="url(#vp7)"/><g fill="#3c4a68"><rect x="14.2" y="17" width="1.2" height="3.8"/><rect x="16.4" y="17" width="2.6" height="1"/><rect x="16.4" y="19.8" width="2.6" height="1"/><rect x="20.4" y="18" width="0.8" height="0.8"/><rect x="22.4" y="17" width="1.6" height="3.8"/><rect x="24.8" y="17" width="1.6" height="3.8"/></g><rect x="32.3" y="16.9" width="4.7" height="6.2" fill="#6b7891"/><rect x="13.3" y="25.8" width="2.8" height="2.7" fill="#6b7891"/><rect x="17.4" y="25.8" width="2.8" height="2.7" fill="#6b7891"/><rect x="21.5" y="25.8" width="2.8" height="2.7" fill="#6b7891"/><rect x="25.6" y="25.8" width="2.8" height="2.7" fill="#6b7891"/><rect x="29.7" y="25.8" width="2.8" height="2.7" fill="#6b7891"/><rect x="33.8" y="25.8" width="2.8" height="2.7" fill="#6b7891"/><rect x="37.1" y="10.9" width="2.2" height="1.8" fill="#2bb02b"/><rect x="30" y="11.2" width="6" height="1" fill="#16203a"/></svg>
<span class="t" style="left:1061.30px;top:545.77px;font-size:12px;color:#262626;transform:scaleX(0.9563);">6</span>
<span class="t" style="left:1241.50px;top:545.77px;font-size:12px;color:#4698f3;transform:scaleX(0.9574);">Review</span>
<svg class="b" style="left:1287.5px;top:546.735px;" width="7.0" height="11.0" viewBox="0 0 7 11"><path d="M1 0.8L6 5.5L1 10.2" fill="none" stroke="#9a9a9a" stroke-width="1.1"/></svg>
<div class="b" style="left:788px;top:572.37px;width:523px;height:1px;background:#e4e6eb;"></div>
<span class="t" style="left:839.20px;top:588.04px;font-size:12px;color:#262626;transform:scaleX(0.9821);">Security systems</span>
<svg class="b" style="left:801.20px;top:581.15px;overflow:visible" width="24.9" height="24.9" viewBox="0 0 42 42"><rect x="0" y="5" width="41.8" height="32.700" rx="1.8" fill="#050505"/><rect x="4.6" y="8" width="32.5" height="7.9" rx="0.8" fill="#97a3b8"/><rect x="4.8" y="19.8" width="3.6" height="3.1" fill="#2a3b5c"/><rect x="9.5" y="19.8" width="3.6" height="3.1" fill="#2a3b5c"/><rect x="14.2" y="19.8" width="3.6" height="3.1" fill="#2a3b5c"/><rect x="18.9" y="19.8" width="3.6" height="3.1" fill="#2bb02b"/><rect x="4.8" y="24.1" width="3.6" height="3.1" fill="#2a3b5c"/><rect x="9.5" y="24.1" width="3.6" height="3.1" fill="#2a3b5c"/><rect x="14.2" y="24.1" width="3.6" height="3.1" fill="#2a3b5c"/><rect x="18.9" y="24.1" width="3.6" height="3.1" fill="#2a3b5c"/><rect x="4.8" y="28.4" width="3.6" height="3.1" fill="#2a3b5c"/><rect x="9.5" y="28.4" width="3.6" height="3.1" fill="#2a3b5c"/><rect x="14.2" y="28.4" width="3.6" height="3.1" fill="#2a3b5c"/><rect x="18.9" y="28.4" width="3.6" height="3.1" fill="#2a3b5c"/><rect x="4.8" y="32.7" width="3.6" height="3.1" fill="#2a3b5c"/><rect x="9.5" y="32.7" width="3.6" height="3.1" fill="#2a3b5c"/><rect x="14.2" y="32.7" width="3.6" height="3.1" fill="#2a3b5c"/><rect x="18.9" y="32.7" width="3.6" height="3.1" fill="#2a3b5c"/><circle cx="32.2" cy="26.9" r="4.7" fill="#4a5a7a"/><circle cx="32.2" cy="26.9" r="2.4" fill="#3a4866"/></svg>
<span class="t" style="left:1061.30px;top:588.04px;font-size:12px;color:#262626;transform:scaleX(0.9563);">3</span>
<span class="t" style="left:1241.50px;top:588.04px;font-size:12px;color:#4698f3;transform:scaleX(0.9574);">Review</span>
<svg class="b" style="left:1287.5px;top:589.005px;" width="7.0" height="11.0" viewBox="0 0 7 11"><path d="M1 0.8L6 5.5L1 10.2" fill="none" stroke="#9a9a9a" stroke-width="1.1"/></svg>
<div class="b" style="left:788px;top:614.64px;width:523px;height:1px;background:#e4e6eb;"></div>
<span class="t" style="left:839.20px;top:630.31px;font-size:12px;color:#262626;transform:scaleX(0.9592);">VoIP devices</span>
<svg class="b" style="left:801.20px;top:623.42px;overflow:visible" width="24.9" height="24.9" viewBox="0 0 42 42"><defs><linearGradient id="vp9" x1="0" y1="0" x2="1" y2="1"><stop offset="0" stop-color="#a3adc2"/><stop offset="0.5" stop-color="#8d98b0"/><stop offset="1" stop-color="#a3adc2"/></linearGradient></defs><rect x="1.1" y="9.7" width="2" height="25.3" fill="#6b7891"/><path d="M2.2 35V6.2Q2.2 4.5 3.9 4.5H7.2Q8.9 4.5 8.9 6.2V35Z" fill="#a9b2c6"/><circle cx="5.6" cy="7.6" r="0.8" fill="#1c2840"/><rect x="4.6" y="33.8" width="2" height="1.4" fill="#111"/><rect x="8.9" y="9.7" width="31.8" height="25" rx="0.6" fill="#2e3f5e"/><rect x="11.4" y="13.4" width="27.5" height="17.1" fill="url(#vp9)"/><g fill="#3c4a68"><rect x="14.2" y="17" width="1.2" height="3.8"/><rect x="16.4" y="17" width="2.6" height="1"/><rect x="16.4" y="19.8" width="2.6" height="1"/><rect x="20.4" y="18" width="0.8" height="0.8"/><rect x="22.4" y="17" width="1.6" height="3.8"/><rect x="24.8" y="17" width="1.6" height="3.8"/></g><rect x="32.3" y="16.9" width="4.7" height="6.2" fill="#6b7891"/><rect x="13.3" y="25.8" width="2.8" height="2.7" fill="#6b7891"/><rect x="17.4" y="25.8" width="2.8" height="2.7" fill="#6b7891"/><rect x="21.5" y="25.8" width="2.8" height="2.7" fill="#6b7891"/><rect x="25.6" y="25.8" width="2.8" height="2.7" fill="#6b7891"/><rect x="29.7" y="25.8" width="2.8" height="2.7" fill="#6b7891"/><rect x="33.8" y="25.8" width="2.8" height="2.7" fill="#6b7891"/><rect x="37.1" y="10.9" width="2.2" height="1.8" fill="#2bb02b"/><rect x="30" y="11.2" width="6" height="1" fill="#16203a"/></svg>
<span class="t" style="left:1061.30px;top:630.31px;font-size:12px;color:#262626;transform:scaleX(0.9563);">2</span>
<span class="t" style="left:1241.50px;top:630.31px;font-size:12px;color:#4698f3;transform:scaleX(0.9574);">Review</span>
<svg class="b" style="left:1287.5px;top:631.275px;" width="7.0" height="11.0" viewBox="0 0 7 11"><path d="M1 0.8L6 5.5L1 10.2" fill="none" stroke="#9a9a9a" stroke-width="1.1"/></svg>
<div class="b" style="left:788px;top:656.9100000000001px;width:523px;height:1px;background:#e4e6eb;"></div>
<span class="t" style="left:839.20px;top:672.58px;font-size:12px;color:#262626;transform:scaleX(0.9410);">Devices</span>
<svg class="b" style="left:801.20px;top:665.70px;overflow:visible" width="24.9" height="24.9" viewBox="0 0 42 42"><rect x="6.3" y="37" width="29.100" height="1.8" fill="#a9b2c6"/><path d="M5.2 5.0V3.0Q5.2 1.0 7.2 1.0H34.200Q36.200 1.0 36.2 3.0V5.0Z" fill="#a9b2c6"/><path d="M5.2 4.6H36.2V30.799999999999997Q36.2 32.8 34.2 32.8H7.2Q5.2 32.8 5.2 30.799999999999997Z" fill="#2e3f5e"/><rect x="19.1" y="32.599999999999994" width="3.9" height="3" fill="#2e3f5e"/><rect x="12.9" y="35.2" width="16.3" height="5.2" rx="0.8" fill="#2e3f5e"/><g fill="none"><path d="M20.90 18.70L20.90 11.70" stroke="#c9cfdb" stroke-width="0.9"/><path d="M20.90 18.70L26.96 15.20" stroke="#c9cfdb" stroke-width="0.9"/><path d="M20.90 18.70L26.96 22.20" stroke="#c9cfdb" stroke-width="0.9"/><path d="M20.90 18.70L20.90 25.70" stroke="#c9cfdb" stroke-width="0.9"/><path d="M20.90 18.70L14.84 22.20" stroke="#c9cfdb" stroke-width="0.9"/><path d="M20.90 18.70L14.84 15.20" stroke="#c9cfdb" stroke-width="0.9"/><circle cx="20.90" cy="11.70" r="1.55" fill="#2e3f5e" stroke="#c9cfdb" stroke-width="0.9"/><circle cx="26.96" cy="15.20" r="1.70" fill="#c9cfdb"/><circle cx="26.96" cy="22.20" r="1.55" fill="#2e3f5e" stroke="#c9cfdb" stroke-width="0.9"/><circle cx="20.90" cy="25.70" r="1.70" fill="#c9cfdb"/><circle cx="14.84" cy="22.20" r="1.55" fill="#2e3f5e" stroke="#c9cfdb" stroke-width="0.9"/><circle cx="14.84" cy="15.20" r="1.70" fill="#c9cfdb"/><circle cx="20.9" cy="18.7" r="1.9" fill="#c9cfdb"/></g></svg>
<span class="t" style="left:1061.30px;top:672.58px;font-size:12px;color:#262626;transform:scaleX(0.9563);">1</span>
<span class="t" style="left:1241.50px;top:672.58px;font-size:12px;color:#4698f3;transform:scaleX(0.9574);">Review</span>
<svg class="b" style="left:1287.5px;top:673.5450000000001px;" width="7.0" height="11.0" viewBox="0 0 7 11"><path d="M1 0.8L6 5.5L1 10.2" fill="none" stroke="#9a9a9a" stroke-width="1.1"/></svg>
<div class="b" style="left:788px;top:699.1800000000001px;width:523px;height:1px;background:#e4e6eb;"></div>
<span class="t" style="left:839.20px;top:714.85px;font-size:12px;color:#262626;transform:scaleX(1.0130);">Doorbells</span>
<svg class="b" style="left:801.20px;top:707.97px;overflow:visible" width="24.9" height="24.9" viewBox="0 0 42 42"><rect x="12" y="2.6" width="17.700" height="38.300" rx="4" fill="#2b3d5f"/><circle cx="20.6" cy="13.6" r="5.4" fill="#c9cfdb"/><circle cx="20.6" cy="13.6" r="3.6" fill="#aab3c6"/><circle cx="20.7" cy="27.4" r="4.9" fill="#1f6b3a"/><circle cx="20.7" cy="27.4" r="1.700" fill="#4a66a8"/><rect x="17" y="35.2" width="7.400" height="1.400" fill="#3d5078"/></svg>
<span class="t" style="left:1061.30px;top:714.85px;font-size:12px;color:#262626;transform:scaleX(0.9563);">1</span>
<span class="t" style="left:1241.50px;top:714.85px;font-size:12px;color:#4698f3;transform:scaleX(0.9574);">Review</span>
<svg class="b" style="left:1287.5px;top:715.815px;" width="7.0" height="11.0" viewBox="0 0 7 11"><path d="M1 0.8L6 5.5L1 10.2" fill="none" stroke="#9a9a9a" stroke-width="1.1"/></svg>
<div class="b" style="left:788px;top:741.45px;width:523px;height:1px;background:#e4e6eb;"></div>
<span class="t" style="left:839.20px;top:757.12px;font-size:12px;color:#262626;">Industrial devices</span>
<svg class="b" style="left:801.20px;top:750.24px;overflow:visible" width="24.9" height="24.9" viewBox="0 0 42 42"><rect x="6.3" y="37" width="29.100" height="1.8" fill="#a9b2c6"/><path d="M5.2 5.0V3.0Q5.2 1.0 7.2 1.0H34.200Q36.200 1.0 36.2 3.0V5.0Z" fill="#a9b2c6"/><path d="M5.2 4.6H36.2V30.799999999999997Q36.2 32.8 34.2 32.8H7.2Q5.2 32.8 5.2 30.799999999999997Z" fill="#2e3f5e"/><rect x="19.1" y="32.599999999999994" width="3.9" height="3" fill="#2e3f5e"/><rect x="12.9" y="35.2" width="16.3" height="5.2" rx="0.8" fill="#2e3f5e"/><g fill="#c9cfdb"><path d="M11.4 28.4V20.4L17 16.800L26.600 15.2L31.400 19.600V28.400Z"/><path d="M15.6 12.8Q20 9.400 23.800 10.200L26.800 13.200V16L22.600 13.200Q19 12.600 15.600 12.800Z"/></g><g fill="#2e3f5e"><rect x="14" y="21.6" width="2.400" height="1.400"/><rect x="18.4" y="24.600" width="5.600" height="1.400"/><rect x="26" y="20.600" width="0.800" height="6"/><rect x="28.4" y="21.600" width="0.800" height="5"/><rect x="12.400" y="23.600" width="14" height="0.500"/></g></svg>
<span class="t" style="left:1061.30px;top:757.12px;font-size:12px;color:#262626;transform:scaleX(0.9563);">1</span>
<span class="t" style="left:1241.50px;top:757.12px;font-size:12px;color:#4698f3;transform:scaleX(0.9574);">Review</span>
<svg class="b" style="left:1287.5px;top:758.085px;" width="7.0" height="11.0" viewBox="0 0 7 11"><path d="M1 0.8L6 5.5L1 10.2" fill="none" stroke="#9a9a9a" stroke-width="1.1"/></svg>
<div class="b" style="left:1339.2px;top:101.95px;width:482.7px;height:56px;background:#f7f7f7;border-radius:3px;"></div>
<svg class="b" style="left:1353.00px;top:108.95px;overflow:visible" width="42" height="42" viewBox="0 0 42 42"><circle cx="21" cy="15.7" r="16" fill="#5b5b5b"/><circle cx="21" cy="15.7" r="11.6" fill="#a9b2c6"/><circle cx="21" cy="15.7" r="7.2" fill="#4a4f5a"/><circle cx="21" cy="15.7" r="5.9" fill="#8e97aa"/><circle cx="21" cy="15.7" r="5" fill="#2a2d36"/><circle cx="21" cy="15.7" r="3.9" fill="#0c0c12"/><circle cx="26.5" cy="8" r="1.2" fill="#2bb02b"/><rect x="18.3" y="27.8" width="5.6" height="7.4" fill="#1c2840"/><rect x="10" y="34" width="22.3" height="4.6" rx="0.8" fill="#a9b2c6"/><rect x="10" y="38.3" width="22.3" height="4" rx="1" fill="#3a404c"/></svg>
<span class="t" style="left:1423.29px;top:117.60px;font-size:26px;color:#555;transform:scaleX(0.9779);">85</span>
<span class="t" style="left:1479.50px;top:113.19px;font-size:12px;color:#484848;font-weight:700;transform:scaleX(1.0646);">IP cameras</span>
<svg class="b" style="left:1479.7px;top:133.7px;" width="13.2" height="14.2" viewBox="0 0 13.2 14.2"><path d="M6.5 0.2Q6.9 0 7.3 0.2L12.6 3.2Q13.2 3.5 13.1 4.2L11.4 10.6Q11.3 11.2 10.8 11.5L7.2 13.8Q6.6 14.200 6 13.800L2.300 11.500Q1.800 11.200 1.700 10.600L0 4.200Q-0.1 3.500 0.500 3.200Z" fill="#2d3f5c"/></svg>
<span class="t" style="left:1498.70px;top:134.69px;font-size:12px;color:#666;transform:scaleX(1.0580);">Prevent</span>
<svg class="b" style="left:1797.15px;top:124.09999999999998px;" width="7.700000000000001" height="12.100000000000001" viewBox="0 0 7 11"><path d="M1 0.8L6 5.5L1 10.2" fill="none" stroke="#9a9a9a" stroke-width="1.1"/></svg>
<div class="b" style="left:1339.2px;top:163.58px;width:482.7px;height:56px;background:#f7f7f7;border-radius:3px;"></div>
<svg class="b" style="left:1353.00px;top:170.58px;overflow:visible" width="42" height="42" viewBox="0 0 42 42"><rect x="8.4" y="5.2" width="2.4" height="8" rx="1.1" fill="#1c2840"/><rect x="31" y="5.2" width="2.4" height="8" rx="1.1" fill="#1c2840"/><rect x="10.7" y="3.3" width="20.4" height="10" fill="#e8eaee"/><path d="M0.2 19.8V14.8Q0.2 12.2 2.8 12.2H39.3Q41.9 12.2 41.9 14.8V19.8Z" fill="#a9b2c6"/><path d="M12 13.9H30V15.6Q30 17 28.6 17H13.4Q12 17 12 15.6Z" fill="#6b7891"/><path d="M0.2 19.6H41.9V32.2Q41.9 34.3 39.8 34.3H2.3Q0.2 34.3 0.2 32.2Z" fill="#2c3e5e"/><rect x="0.2" y="19.6" width="41.7" height="4.2" fill="#283654"/><rect x="3.9" y="21" width="2.1" height="1.3" fill="#2bb02b"/><rect x="7" y="21.3" width="0.9" height="0.8" fill="#1c2840"/><rect x="9" y="21.3" width="0.9" height="0.8" fill="#1c2840"/><rect x="17.6" y="21.1" width="8.5" height="1" fill="#16203a"/><rect x="35" y="21.3" width="0.9" height="0.8" fill="#1c2840"/><rect x="37" y="21.3" width="0.9" height="0.8" fill="#1c2840"/><rect x="39" y="21.3" width="0.9" height="0.8" fill="#1c2840"/><rect x="8.9" y="29.3" width="24" height="3" fill="#16203a"/><path d="M9.4 36.3L10.4 30.6H31.4L32.4 36.3Z" fill="#c8cfdc"/><rect x="10.6" y="30.6" width="20.6" height="5.7" fill="#e8eaee"/></svg>
<span class="t" style="left:1423.29px;top:179.23px;font-size:26px;color:#555;transform:scaleX(0.9779);">56</span>
<span class="t" style="left:1479.50px;top:174.82px;font-size:12px;color:#484848;font-weight:700;transform:scaleX(1.0957);">Printers</span>
<svg class="b" style="left:1479.7px;top:195.33px;" width="13.2" height="14.2" viewBox="0 0 13.2 14.2"><path d="M6.5 0.2Q6.9 0 7.3 0.2L12.6 3.2Q13.2 3.5 13.1 4.2L11.4 10.6Q11.3 11.2 10.8 11.5L7.2 13.8Q6.6 14.200 6 13.800L2.300 11.500Q1.800 11.200 1.700 10.600L0 4.200Q-0.1 3.500 0.500 3.200Z" fill="#2d3f5c"/></svg>
<span class="t" style="left:1498.70px;top:196.32px;font-size:12px;color:#666;transform:scaleX(1.0580);">Prevent</span>
<svg class="b" style="left:1797.15px;top:185.73px;" width="7.700000000000001" height="12.100000000000001" viewBox="0 0 7 11"><path d="M1 0.8L6 5.5L1 10.2" fill="none" stroke="#9a9a9a" stroke-width="1.1"/></svg>
<div class="b" style="left:1339.2px;top:225.21px;width:482.7px;height:56px;background:#f7f7f7;border-radius:3px;"></div>
<svg class="b" style="left:1353.00px;top:232.21px;overflow:visible" width="42" height="42" viewBox="0 0 42 42"><rect x="3.5" y="3.2" width="35.4" height="34.5" rx="2" fill="#2e3f5e"/><rect x="5.2" y="13.7" width="31.8" height="20.5" fill="#46567a"/><rect x="6.2" y="15.2" width="27.7" height="4.8" fill="#7a88a3"/><rect x="6.2" y="22" width="27.7" height="4.8" fill="#7a88a3"/><rect x="6.2" y="28.7" width="27.7" height="4.8" fill="#7a88a3"/><circle cx="9.7" cy="8.8" r="2.2" fill="#1f8f2f"/><path d="M31.8 7.6H36.6L34.2 10.4Z" fill="#1f8f2f"/><circle cx="35.3" cy="15.3" r="1" fill="#1f8f2f"/><circle cx="35.3" cy="22" r="1" fill="#1f8f2f"/><circle cx="35.3" cy="28.8" r="1" fill="#1f8f2f"/></svg>
<span class="t" style="left:1423.29px;top:240.86px;font-size:26px;color:#555;transform:scaleX(0.9779);">10</span>
<span class="t" style="left:1479.50px;top:236.45px;font-size:12px;color:#484848;font-weight:700;transform:scaleX(0.9913);">NAS</span>
<svg class="b" style="left:1479.7px;top:256.96000000000004px;" width="13.2" height="14.2" viewBox="0 0 13.2 14.2"><path d="M6.5 0.2Q6.9 0 7.3 0.2L12.6 3.2Q13.2 3.5 13.1 4.2L11.4 10.6Q11.3 11.2 10.8 11.5L7.2 13.8Q6.6 14.200 6 13.800L2.300 11.500Q1.800 11.200 1.700 10.600L0 4.200Q-0.1 3.500 0.500 3.200Z" fill="#f6b02a"/><path d="M1.6 6.9L4 6.5L5.400 5.500L7.900 10.200L10.200 6.700L11.300 6.300" fill="none" stroke="#fff" stroke-width="1.1" stroke-linejoin="round"/></svg>
<span class="t" style="left:1498.90px;top:257.95px;font-size:12px;color:#666;transform:scaleX(1.0438);">Detect</span>
<svg class="b" style="left:1797.15px;top:247.35999999999999px;" width="7.700000000000001" height="12.100000000000001" viewBox="0 0 7 11"><path d="M1 0.8L6 5.5L1 10.2" fill="none" stroke="#9a9a9a" stroke-width="1.1"/></svg>
<div class="b" style="left:1339.2px;top:286.84px;width:482.7px;height:56px;background:#f7f7f7;border-radius:3px;"></div>
<svg class="b" style="left:1353.00px;top:293.84px;overflow:visible" width="42" height="42" viewBox="0 0 42 42"><rect x="23.4" y="5.9" width="6.6" height="9" fill="#1c2840"/><rect x="0.1" y="8.2" width="40.3" height="27.1" rx="0.8" fill="#2f446a"/><rect x="23.4" y="8.2" width="6.6" height="6.6" fill="#1c2840"/><rect x="25.6" y="10.2" width="2.2" height="2.2" fill="#3a5080"/><rect x="6.2" y="10.3" width="14.8" height="2.9" fill="#1c2840"/><rect x="3" y="15.4" width="3.6" height="12" fill="#1c2840"/><rect x="3.8" y="16.6" width="2.2" height="9.6" fill="#b8c0d0"/><g fill="none" stroke="#e4e8f0" stroke-width="0.9"><ellipse cx="12.3" cy="22.6" rx="4.2" ry="4.6"/><path d="M9 17.2q2-1.6 3.3 1.2q1.3-2.8 3.3-1.2M9.4 21h5.8M8.6 24h7.4M12.3 18.4v8.6"/></g><rect x="18.7" y="17.5" width="9.1" height="8.9" rx="0.6" fill="#a6b0c8"/><rect x="21" y="19.8" width="4.3" height="4.3" fill="#4a66a8"/><rect x="33.6" y="16.6" width="8.4" height="6.6" fill="#2f446a"/><rect x="33.9" y="17.2" width="8.1" height="5.4" fill="#c5ccd8"/><rect x="35" y="18.6" width="6" height="2.4" fill="#8792aa"/><rect x="33.6" y="26.4" width="8.4" height="6.6" fill="#2f446a"/><rect x="33.9" y="27" width="8.1" height="5.4" fill="#c5ccd8"/><rect x="35" y="28.4" width="6" height="2.4" fill="#8792aa"/><rect x="7.1" y="29" width="10.9" height="6.3" fill="#c0c8d6"/><rect x="8.4" y="30" width="2" height="1" fill="#4a66a8"/><rect x="14.8" y="30" width="2" height="1" fill="#4a66a8"/><rect x="19.6" y="29.6" width="2.4" height="3" rx="0.8" fill="#16203a"/><rect x="26.1" y="29" width="4.3" height="3.8" fill="#16203a"/><circle cx="2.4" cy="11" r="0.6" fill="#4a66a8"/><circle cx="38" cy="11" r="0.6" fill="#4a66a8"/><circle cx="2.4" cy="32" r="0.6" fill="#4a66a8"/></svg>
<span class="t" style="left:1430.34px;top:302.49px;font-size:26px;color:#555;transform:scaleX(0.9692);">7</span>
<span class="t" style="left:1479.50px;top:298.08px;font-size:12px;color:#484848;font-weight:700;transform:scaleX(1.0496);">Raspberries</span>
<svg class="b" style="left:1479.7px;top:318.59000000000003px;" width="13.2" height="14.2" viewBox="0 0 13.2 14.2"><path d="M6.5 0.2Q6.9 0 7.3 0.2L12.6 3.2Q13.2 3.5 13.1 4.2L11.4 10.6Q11.3 11.2 10.8 11.5L7.2 13.8Q6.6 14.200 6 13.800L2.300 11.500Q1.800 11.200 1.700 10.600L0 4.200Q-0.1 3.500 0.500 3.200Z" fill="#2d3f5c"/></svg>
<span class="t" style="left:1498.70px;top:319.58px;font-size:12px;color:#666;transform:scaleX(1.0580);">Prevent</span>
<svg class="b" style="left:1797.15px;top:308.99px;" width="7.700000000000001" height="12.100000000000001" viewBox="0 0 7 11"><path d="M1 0.8L6 5.5L1 10.2" fill="none" stroke="#9a9a9a" stroke-width="1.1"/></svg>
<div class="b" style="left:1339.2px;top:348.47px;width:482.7px;height:56px;background:#f7f7f7;border-radius:3px;"></div>
<svg class="b" style="left:1353.00px;top:355.47px;overflow:visible" width="42" height="42" viewBox="0 0 42 42"><defs><linearGradient id="tv17" x1="0" y1="0" x2="1" y2="1"><stop offset="0" stop-color="#8d99ae"/><stop offset="0.3" stop-color="#75839d"/><stop offset="0.45" stop-color="#8d99ae"/><stop offset="0.62" stop-color="#77859e"/><stop offset="0.8" stop-color="#8d99ae"/><stop offset="1" stop-color="#8d99ae"/></linearGradient></defs><path d="M6.3 32L4.4 34.8M36.2 32L38.1 34.8" stroke="#3c3c3c" stroke-width="1"/><rect x="0.1" y="6.9" width="41.9" height="25.5" rx="0.6" fill="#38496a"/><rect x="1.1" y="8.1" width="40" height="21.7" fill="url(#tv17)"/><rect x="20.4" y="30.3" width="1.8" height="1.6" fill="#2bb02b"/></svg>
<span class="t" style="left:1430.34px;top:364.12px;font-size:26px;color:#555;transform:scaleX(0.9692);">4</span>
<span class="t" style="left:1479.50px;top:359.71px;font-size:12px;color:#484848;font-weight:700;transform:scaleX(1.0227);">Smart TVS</span>
<svg class="b" style="left:1479.7px;top:380.22px;" width="13.2" height="14.2" viewBox="0 0 13.2 14.2"><path d="M6.5 0.2Q6.9 0 7.3 0.2L12.6 3.2Q13.2 3.5 13.1 4.2L11.4 10.6Q11.3 11.2 10.8 11.5L7.2 13.8Q6.6 14.200 6 13.800L2.300 11.500Q1.800 11.200 1.700 10.600L0 4.200Q-0.1 3.500 0.500 3.200Z" fill="#2d3f5c"/></svg>
<span class="t" style="left:1498.70px;top:381.21px;font-size:12px;color:#666;transform:scaleX(1.0580);">Prevent</span>
<svg class="b" style="left:1797.15px;top:370.62px;" width="7.700000000000001" height="12.100000000000001" viewBox="0 0 7 11"><path d="M1 0.8L6 5.5L1 10.2" fill="none" stroke="#9a9a9a" stroke-width="1.1"/></svg>
<div class="b" style="left:1339.2px;top:410.1px;width:482.7px;height:56px;background:#f7f7f7;border-radius:3px;"></div>
<svg class="b" style="left:1353.00px;top:417.10px;overflow:visible" width="42" height="42" viewBox="0 0 42 42"><defs><linearGradient id="vp18" x1="0" y1="0" x2="1" y2="1"><stop offset="0" stop-color="#a3adc2"/><stop offset="0.5" stop-color="#8d98b0"/><stop offset="1" stop-color="#a3adc2"/></linearGradient></defs><rect x="1.1" y="9.7" width="2" height="25.3" fill="#6b7891"/><path d="M2.2 35V6.2Q2.2 4.5 3.9 4.5H7.2Q8.9 4.5 8.9 6.2V35Z" fill="#a9b2c6"/><circle cx="5.6" cy="7.6" r="0.8" fill="#1c2840"/><rect x="4.6" y="33.8" width="2" height="1.4" fill="#111"/><rect x="8.9" y="9.7" width="31.8" height="25" rx="0.6" fill="#2e3f5e"/><rect x="11.4" y="13.4" width="27.5" height="17.1" fill="url(#vp18)"/><g fill="#3c4a68"><rect x="14.2" y="17" width="1.2" height="3.8"/><rect x="16.4" y="17" width="2.6" height="1"/><rect x="16.4" y="19.8" width="2.6" height="1"/><rect x="20.4" y="18" width="0.8" height="0.8"/><rect x="22.4" y="17" width="1.6" height="3.8"/><rect x="24.8" y="17" width="1.6" height="3.8"/></g><rect x="32.3" y="16.9" width="4.7" height="6.2" fill="#6b7891"/><rect x="13.3" y="25.8" width="2.8" height="2.7" fill="#6b7891"/><rect x="17.4" y="25.8" width="2.8" height="2.7" fill="#6b7891"/><rect x="21.5" y="25.8" width="2.8" height="2.7" fill="#6b7891"/><rect x="25.6" y="25.8" width="2.8" height="2.7" fill="#6b7891"/><rect x="29.7" y="25.8" width="2.8" height="2.7" fill="#6b7891"/><rect x="33.8" y="25.8" width="2.8" height="2.7" fill="#6b7891"/><rect x="37.1" y="10.9" width="2.2" height="1.8" fill="#2bb02b"/><rect x="30" y="11.2" width="6" height="1" fill="#16203a"/></svg>
<span class="t" style="left:1430.34px;top:425.75px;font-size:26px;color:#555;transform:scaleX(0.9692);">3</span>
<span class="t" style="left:1479.50px;top:421.34px;font-size:12px;color:#484848;font-weight:700;transform:scaleX(1.0430);">VoIP devices</span>
<svg class="b" style="left:1479.7px;top:441.85px;" width="13.2" height="14.2" viewBox="0 0 13.2 14.2"><path d="M6.5 0.2Q6.9 0 7.3 0.2L12.6 3.2Q13.2 3.5 13.1 4.2L11.4 10.6Q11.3 11.2 10.8 11.5L7.2 13.8Q6.6 14.200 6 13.800L2.300 11.500Q1.800 11.200 1.700 10.600L0 4.200Q-0.1 3.500 0.500 3.200Z" fill="#2d3f5c"/></svg>
<span class="t" style="left:1498.70px;top:442.84px;font-size:12px;color:#666;transform:scaleX(1.0580);">Prevent</span>
<span class="t" style="left:1687.80px;top:422.18px;font-size:11.5px;color:#4c4c4c;transform:scaleX(1.0297);">+2</span>
<span class="t" style="left:1687.80px;top:443.53px;font-size:11px;color:#6a6a6a;transform:scaleX(1.0867);">In low confidence</span>
<svg class="b" style="left:1797.15px;top:432.25px;" width="7.700000000000001" height="12.100000000000001" viewBox="0 0 7 11"><path d="M1 0.8L6 5.5L1 10.2" fill="none" stroke="#9a9a9a" stroke-width="1.1"/></svg>
<div class="b" style="left:1339.2px;top:471.73px;width:482.7px;height:56px;background:#f7f7f7;border-radius:3px;"></div>
<svg class="b" style="left:1353.00px;top:478.73px;overflow:visible" width="42" height="42" viewBox="0 0 42 42"><defs><linearGradient id="cw19" x1="0" y1="0" x2="1" y2="0"><stop offset="0" stop-color="#9aa3b5"/><stop offset="0.5" stop-color="#dfe3ea"/><stop offset="1" stop-color="#9aa3b5"/></linearGradient><linearGradient id="cb19" x1="0" y1="0" x2="0" y2="1"><stop offset="0" stop-color="#2b3f63"/><stop offset="0.6" stop-color="#38507a"/><stop offset="1" stop-color="#263757"/></linearGradient></defs><rect x="2.1" y="29" width="6.6" height="4.6" rx="1" fill="#3a3a3a"/><rect x="33.6" y="29" width="6.6" height="4.6" rx="1" fill="#3a3a3a"/><path d="M7.4 16.5L10.2 9.2Q11 7 13.6 6.9Q21 6.4 28.4 6.9Q31 7 31.8 9.2L34.6 16.5Z" fill="#2b3f63"/><path d="M8.6 15.8L11.2 9.6Q11.8 8.1 13.6 8Q21 7.5 28.4 8Q30.2 8.1 30.8 9.6L33.4 15.800Q21 17.4 8.6 15.8Z" fill="url(#cw19)"/><path d="M0.9 20Q0.9 15.600 5 15.2Q21 13.6 37 15.2Q41.100 15.600 41.1 20V26.5Q41.1 31.700 35 31.700H7Q0.9 31.700 0.9 26.5Z" fill="url(#cb19)"/><path d="M4.8 20.1Q8.8 20.4 11.900 24.400Q7.4 24 4.8 20.100Z" fill="#fff2cc"/><path d="M5.6 20.6Q8 21 9.400 23.2Q7 22.700 5.600 20.600Z" fill="#f6a623"/><path d="M37.2 20.1Q33.2 20.4 30.1 24.400Q34.6 24 37.200 20.100Z" fill="#fff2cc"/><path d="M36.4 20.6Q34 21 32.600 23.2Q35 22.700 36.400 20.600Z" fill="#f6a623"/></svg>
<span class="t" style="left:1430.34px;top:487.38px;font-size:26px;color:#555;transform:scaleX(0.9692);">2</span>
<span class="t" style="left:1479.50px;top:482.97px;font-size:12px;color:#484848;font-weight:700;">Cars</span>
<svg class="b" style="left:1479.7px;top:503.48px;" width="13.2" height="14.2" viewBox="0 0 13.2 14.2"><path d="M6.5 0.2Q6.9 0 7.3 0.2L12.6 3.2Q13.2 3.5 13.1 4.2L11.4 10.6Q11.3 11.2 10.8 11.5L7.2 13.8Q6.6 14.200 6 13.800L2.300 11.500Q1.800 11.200 1.700 10.600L0 4.200Q-0.1 3.500 0.500 3.200Z" fill="#2d3f5c"/></svg>
<span class="t" style="left:1498.70px;top:504.47px;font-size:12px;color:#666;transform:scaleX(1.0580);">Prevent</span>
<svg class="b" style="left:1797.15px;top:493.88px;" width="7.700000000000001" height="12.100000000000001" viewBox="0 0 7 11"><path d="M1 0.8L6 5.5L1 10.2" fill="none" stroke="#9a9a9a" stroke-width="1.1"/></svg>
<div class="b" style="left:1339.2px;top:533.36px;width:482.7px;height:56px;background:#f7f7f7;border-radius:3px;"></div>
<svg class="b" style="left:1353.00px;top:540.36px;overflow:visible" width="42" height="42" viewBox="0 0 42 42"><path d="M0.1 21V17.6Q0.1 15 2.700 15H39.400Q42 15 42 17.6V21Z" fill="#a9b2c6"/><path d="M0.1 20.6H42V27.900Q42 29.500 40.400 29.500H1.700Q0.1 29.500 0.1 27.900Z" fill="#2c3e5e"/><rect x="2.90" y="22.3" width="1.7" height="1.9" fill="#c5ccd8"/><rect x="5.95" y="22.3" width="1.7" height="1.9" fill="#c5ccd8"/><rect x="9.00" y="22.3" width="1.7" height="1.9" fill="#c5ccd8"/><rect x="12.05" y="22.3" width="1.7" height="1.9" fill="#c5ccd8"/><rect x="15.10" y="22.3" width="1.7" height="1.9" fill="#c5ccd8"/><rect x="2.90" y="25.3" width="1.7" height="1.9" fill="#c5ccd8"/><rect x="5.95" y="25.3" width="1.7" height="1.9" fill="#c5ccd8"/><rect x="9.00" y="25.3" width="1.7" height="1.9" fill="#c5ccd8"/><rect x="12.05" y="25.3" width="1.7" height="1.9" fill="#c5ccd8"/><rect x="15.10" y="25.3" width="1.7" height="1.9" fill="#c5ccd8"/><circle cx="22.2" cy="25" r="1.7" fill="#8792aa"/><circle cx="35.8" cy="25" r="1.7" fill="#8792aa"/><circle cx="29.4" cy="25.2" r="3.1" fill="#dfe3ea"/><circle cx="29.4" cy="25.2" r="1.2" fill="#2c3e5e"/><rect x="39.4" y="26.8" width="1.6" height="1.600" fill="#2bb02b"/></svg>
<span class="t" style="left:1430.34px;top:549.01px;font-size:26px;color:#555;transform:scaleX(0.9692);">1</span>
<span class="t" style="left:1479.50px;top:544.60px;font-size:12px;color:#484848;font-weight:700;transform:scaleX(1.0399);">Disc players</span>
<svg class="b" style="left:1479.7px;top:565.11px;" width="13.2" height="14.2" viewBox="0 0 13.2 14.2"><path d="M6.5 0.2Q6.9 0 7.3 0.2L12.6 3.2Q13.2 3.5 13.1 4.2L11.4 10.6Q11.3 11.2 10.8 11.5L7.2 13.8Q6.6 14.200 6 13.800L2.300 11.500Q1.800 11.200 1.700 10.600L0 4.200Q-0.1 3.500 0.500 3.200Z" fill="#2d3f5c"/></svg>
<span class="t" style="left:1498.70px;top:566.10px;font-size:12px;color:#666;transform:scaleX(1.0580);">Prevent</span>
<svg class="b" style="left:1797.15px;top:555.5100000000001px;" width="7.700000000000001" height="12.100000000000001" viewBox="0 0 7 11"><path d="M1 0.8L6 5.5L1 10.2" fill="none" stroke="#9a9a9a" stroke-width="1.1"/></svg>
<div class="b" style="left:1339.2px;top:594.99px;width:482.7px;height:56px;background:#f7f7f7;border-radius:3px;"></div>
<svg class="b" style="left:1353.00px;top:601.99px;overflow:visible" width="42" height="42" viewBox="0 0 42 42"><defs><linearGradient id="vp21" x1="0" y1="0" x2="1" y2="1"><stop offset="0" stop-color="#a3adc2"/><stop offset="0.5" stop-color="#8d98b0"/><stop offset="1" stop-color="#a3adc2"/></linearGradient></defs><rect x="1.1" y="9.7" width="2" height="25.3" fill="#6b7891"/><path d="M2.2 35V6.2Q2.2 4.5 3.9 4.5H7.2Q8.9 4.5 8.9 6.2V35Z" fill="#a9b2c6"/><circle cx="5.6" cy="7.6" r="0.8" fill="#1c2840"/><rect x="4.6" y="33.8" width="2" height="1.4" fill="#111"/><rect x="8.9" y="9.7" width="31.8" height="25" rx="0.6" fill="#2e3f5e"/><rect x="11.4" y="13.4" width="27.5" height="17.1" fill="url(#vp21)"/><g fill="#3c4a68"><rect x="14.2" y="17" width="1.2" height="3.8"/><rect x="16.4" y="17" width="2.6" height="1"/><rect x="16.4" y="19.8" width="2.6" height="1"/><rect x="20.4" y="18" width="0.8" height="0.8"/><rect x="22.4" y="17" width="1.6" height="3.8"/><rect x="24.8" y="17" width="1.6" height="3.8"/></g><rect x="32.3" y="16.9" width="4.7" height="6.2" fill="#6b7891"/><rect x="13.3" y="25.8" width="2.8" height="2.7" fill="#6b7891"/><rect x="17.4" y="25.8" width="2.8" height="2.7" fill="#6b7891"/><rect x="21.5" y="25.8" width="2.8" height="2.7" fill="#6b7891"/><rect x="25.6" y="25.8" width="2.8" height="2.7" fill="#6b7891"/><rect x="29.7" y="25.8" width="2.8" height="2.7" fill="#6b7891"/><rect x="33.8" y="25.8" width="2.8" height="2.7" fill="#6b7891"/><rect x="37.1" y="10.9" width="2.2" height="1.8" fill="#2bb02b"/><rect x="30" y="11.2" width="6" height="1" fill="#16203a"/></svg>
<span class="t" style="left:1430.34px;top:610.64px;font-size:26px;color:#555;transform:scaleX(0.9692);">1</span>
<span class="t" style="left:1479.50px;top:606.23px;font-size:12px;color:#484848;font-weight:700;transform:scaleX(1.0469);">IP phones</span>
<svg class="b" style="left:1479.7px;top:626.74px;" width="13.2" height="14.2" viewBox="0 0 13.2 14.2"><path d="M6.5 0.2Q6.9 0 7.3 0.2L12.6 3.2Q13.2 3.5 13.1 4.2L11.4 10.6Q11.3 11.2 10.8 11.5L7.2 13.8Q6.6 14.200 6 13.800L2.300 11.500Q1.800 11.200 1.700 10.600L0 4.200Q-0.1 3.500 0.500 3.200Z" fill="#2d3f5c"/></svg>
<span class="t" style="left:1498.70px;top:627.73px;font-size:12px;color:#666;transform:scaleX(1.0580);">Prevent</span>
<span class="t" style="left:1687.80px;top:607.07px;font-size:11.5px;color:#4c4c4c;transform:scaleX(1.0297);">+6</span>
<span class="t" style="left:1687.80px;top:628.42px;font-size:11px;color:#6a6a6a;transform:scaleX(1.0867);">In low confidence</span>
<svg class="b" style="left:1797.15px;top:617.1400000000001px;" width="7.700000000000001" height="12.100000000000001" viewBox="0 0 7 11"><path d="M1 0.8L6 5.5L1 10.2" fill="none" stroke="#9a9a9a" stroke-width="1.1"/></svg>
<div class="b" style="left:1339.2px;top:656.62px;width:482.7px;height:56px;background:#f7f7f7;border-radius:3px;"></div>
<svg class="b" style="left:1353.00px;top:663.62px;overflow:visible" width="42" height="42" viewBox="0 0 42 42"><rect x="6.3" y="37" width="29.100" height="1.8" fill="#a9b2c6"/><path d="M5.2 5.0V3.0Q5.2 1.0 7.2 1.0H34.200Q36.200 1.0 36.2 3.0V5.0Z" fill="#a9b2c6"/><path d="M5.2 4.6H36.2V30.799999999999997Q36.2 32.8 34.2 32.8H7.2Q5.2 32.8 5.2 30.799999999999997Z" fill="#2e3f5e"/><rect x="19.1" y="32.599999999999994" width="3.9" height="3" fill="#2e3f5e"/><rect x="12.9" y="35.2" width="16.3" height="5.2" rx="0.8" fill="#2e3f5e"/><g fill="none"><path d="M20.90 18.70L20.90 11.70" stroke="#c9cfdb" stroke-width="0.9"/><path d="M20.90 18.70L26.96 15.20" stroke="#c9cfdb" stroke-width="0.9"/><path d="M20.90 18.70L26.96 22.20" stroke="#c9cfdb" stroke-width="0.9"/><path d="M20.90 18.70L20.90 25.70" stroke="#c9cfdb" stroke-width="0.9"/><path d="M20.90 18.70L14.84 22.20" stroke="#c9cfdb" stroke-width="0.9"/><path d="M20.90 18.70L14.84 15.20" stroke="#c9cfdb" stroke-width="0.9"/><circle cx="20.90" cy="11.70" r="1.55" fill="#2e3f5e" stroke="#c9cfdb" stroke-width="0.9"/><circle cx="26.96" cy="15.20" r="1.70" fill="#c9cfdb"/><circle cx="26.96" cy="22.20" r="1.55" fill="#2e3f5e" stroke="#c9cfdb" stroke-width="0.9"/><circle cx="20.90" cy="25.70" r="1.70" fill="#c9cfdb"/><circle cx="14.84" cy="22.20" r="1.55" fill="#2e3f5e" stroke="#c9cfdb" stroke-width="0.9"/><circle cx="14.84" cy="15.20" r="1.70" fill="#c9cfdb"/><circle cx="20.9" cy="18.7" r="1.9" fill="#c9cfdb"/></g></svg>
<span class="t" style="left:1430.34px;top:672.27px;font-size:26px;color:#555;transform:scaleX(0.9692);">1</span>
<span class="t" style="left:1479.50px;top:667.86px;font-size:12px;color:#484848;font-weight:700;transform:scaleX(1.0513);">Point of sales</span>
<svg class="b" style="left:1479.7px;top:688.3700000000001px;" width="13.2" height="14.2" viewBox="0 0 13.2 14.2"><path d="M6.5 0.2Q6.9 0 7.3 0.2L12.6 3.2Q13.2 3.5 13.1 4.2L11.4 10.6Q11.3 11.2 10.8 11.5L7.2 13.8Q6.6 14.200 6 13.800L2.300 11.500Q1.800 11.200 1.700 10.600L0 4.200Q-0.1 3.500 0.500 3.200Z" fill="#f6b02a"/><path d="M1.6 6.9L4 6.5L5.400 5.500L7.900 10.200L10.200 6.700L11.300 6.300" fill="none" stroke="#fff" stroke-width="1.1" stroke-linejoin="round"/></svg>
<span class="t" style="left:1498.90px;top:689.36px;font-size:12px;color:#666;transform:scaleX(1.0438);">Detect</span>
<svg class="b" style="left:1797.15px;top:678.7700000000002px;" width="7.700000000000001" height="12.100000000000001" viewBox="0 0 7 11"><path d="M1 0.8L6 5.5L1 10.2" fill="none" stroke="#9a9a9a" stroke-width="1.1"/></svg>
<div class="b" style="left:1339.2px;top:718.25px;width:482.7px;height:56px;background:#f7f7f7;border-radius:3px;"></div>
<svg class="b" style="left:1353.00px;top:725.25px;overflow:visible" width="42" height="42" viewBox="0 0 42 42"><g transform="translate(21 21.2) scale(1.074 1.03) translate(-21 -20)"><rect x="6.3" y="37" width="29.100" height="1.8" fill="#a9b2c6"/><path d="M5.2 3.5V1.5Q5.2 -0.5 7.2 -0.5H34.200Q36.200 -0.5 36.2 1.5V3.5Z" fill="#a9b2c6"/><path d="M5.2 3.1H36.2V30.6Q36.2 32.6 34.2 32.6H7.2Q5.2 32.6 5.2 30.6Z" fill="#3a3f47"/><rect x="19.1" y="32.4" width="3.9" height="3" fill="#3a3f47"/><rect x="12.9" y="35.2" width="16.3" height="5.2" rx="0.8" fill="#3a3f47"/><rect x="5.2" y="29.4" width="31" height="1.600" fill="#54585f"/><rect x="11.2" y="27.4" width="20.6" height="1.100" fill="#a9b2c6"/><path d="M12.6 27.6V10.4L17.600 8.4V27.600Z" fill="#a9b2c6"/><rect x="13.8" y="11.8" width="1.6" height="15.8" fill="#3a3f47"/><path d="M17.2 27.6V7.2L20.400 5.8L22.800 7V27.600Z" fill="#97a1b6"/><rect x="18.4" y="8.4" width="1.2" height="3" fill="#3a3f47"/><path d="M19.8 27.6V10.6L23.200 12.400V27.600Z" fill="#a9b2c6"/><path d="M23.2 27.6V10.2L30 14V27.600Z" fill="#a9b2c6"/><path d="M19.800 12.4L23.200 14.0" stroke="#3a3f47" stroke-width="0.7"/><path d="M19.800 14.3L23.200 15.9" stroke="#3a3f47" stroke-width="0.7"/><path d="M19.800 16.2L23.200 17.8" stroke="#3a3f47" stroke-width="0.7"/><path d="M19.800 18.1L23.200 19.7" stroke="#3a3f47" stroke-width="0.7"/><path d="M19.800 20.0L23.200 21.6" stroke="#3a3f47" stroke-width="0.7"/><path d="M19.800 21.9L23.200 23.5" stroke="#3a3f47" stroke-width="0.7"/><path d="M19.800 23.8L23.200 25.4" stroke="#3a3f47" stroke-width="0.7"/></g></svg>
<span class="t" style="left:1430.34px;top:733.90px;font-size:26px;color:#555;transform:scaleX(0.9692);">1</span>
<span class="t" style="left:1479.50px;top:729.49px;font-size:12px;color:#484848;font-weight:700;transform:scaleX(1.0688);">Smart appliances</span>
<svg class="b" style="left:1479.7px;top:750.0000000000001px;" width="13.2" height="14.2" viewBox="0 0 13.2 14.2"><path d="M6.5 0.2Q6.9 0 7.3 0.2L12.6 3.2Q13.2 3.5 13.1 4.2L11.4 10.6Q11.3 11.2 10.8 11.5L7.2 13.8Q6.6 14.200 6 13.800L2.300 11.500Q1.800 11.200 1.700 10.600L0 4.200Q-0.1 3.500 0.500 3.200Z" fill="#2d3f5c"/></svg>
<span class="t" style="left:1498.70px;top:750.99px;font-size:12px;color:#666;transform:scaleX(1.0580);">Prevent</span>
<svg class="b" style="left:1797.15px;top:740.4000000000002px;" width="7.700000000000001" height="12.100000000000001" viewBox="0 0 7 11"><path d="M1 0.8L6 5.5L1 10.2" fill="none" stroke="#9a9a9a" stroke-width="1.1"/></svg>
<div class="b" style="left:1827px;top:102px;width:9px;height:680px;background:#e6e6e6;"></div>
<div class="b" style="left:1827px;top:102px;width:9px;height:539px;background:#aaaaaa;border-radius:4.5px;"></div>
</body></html>
